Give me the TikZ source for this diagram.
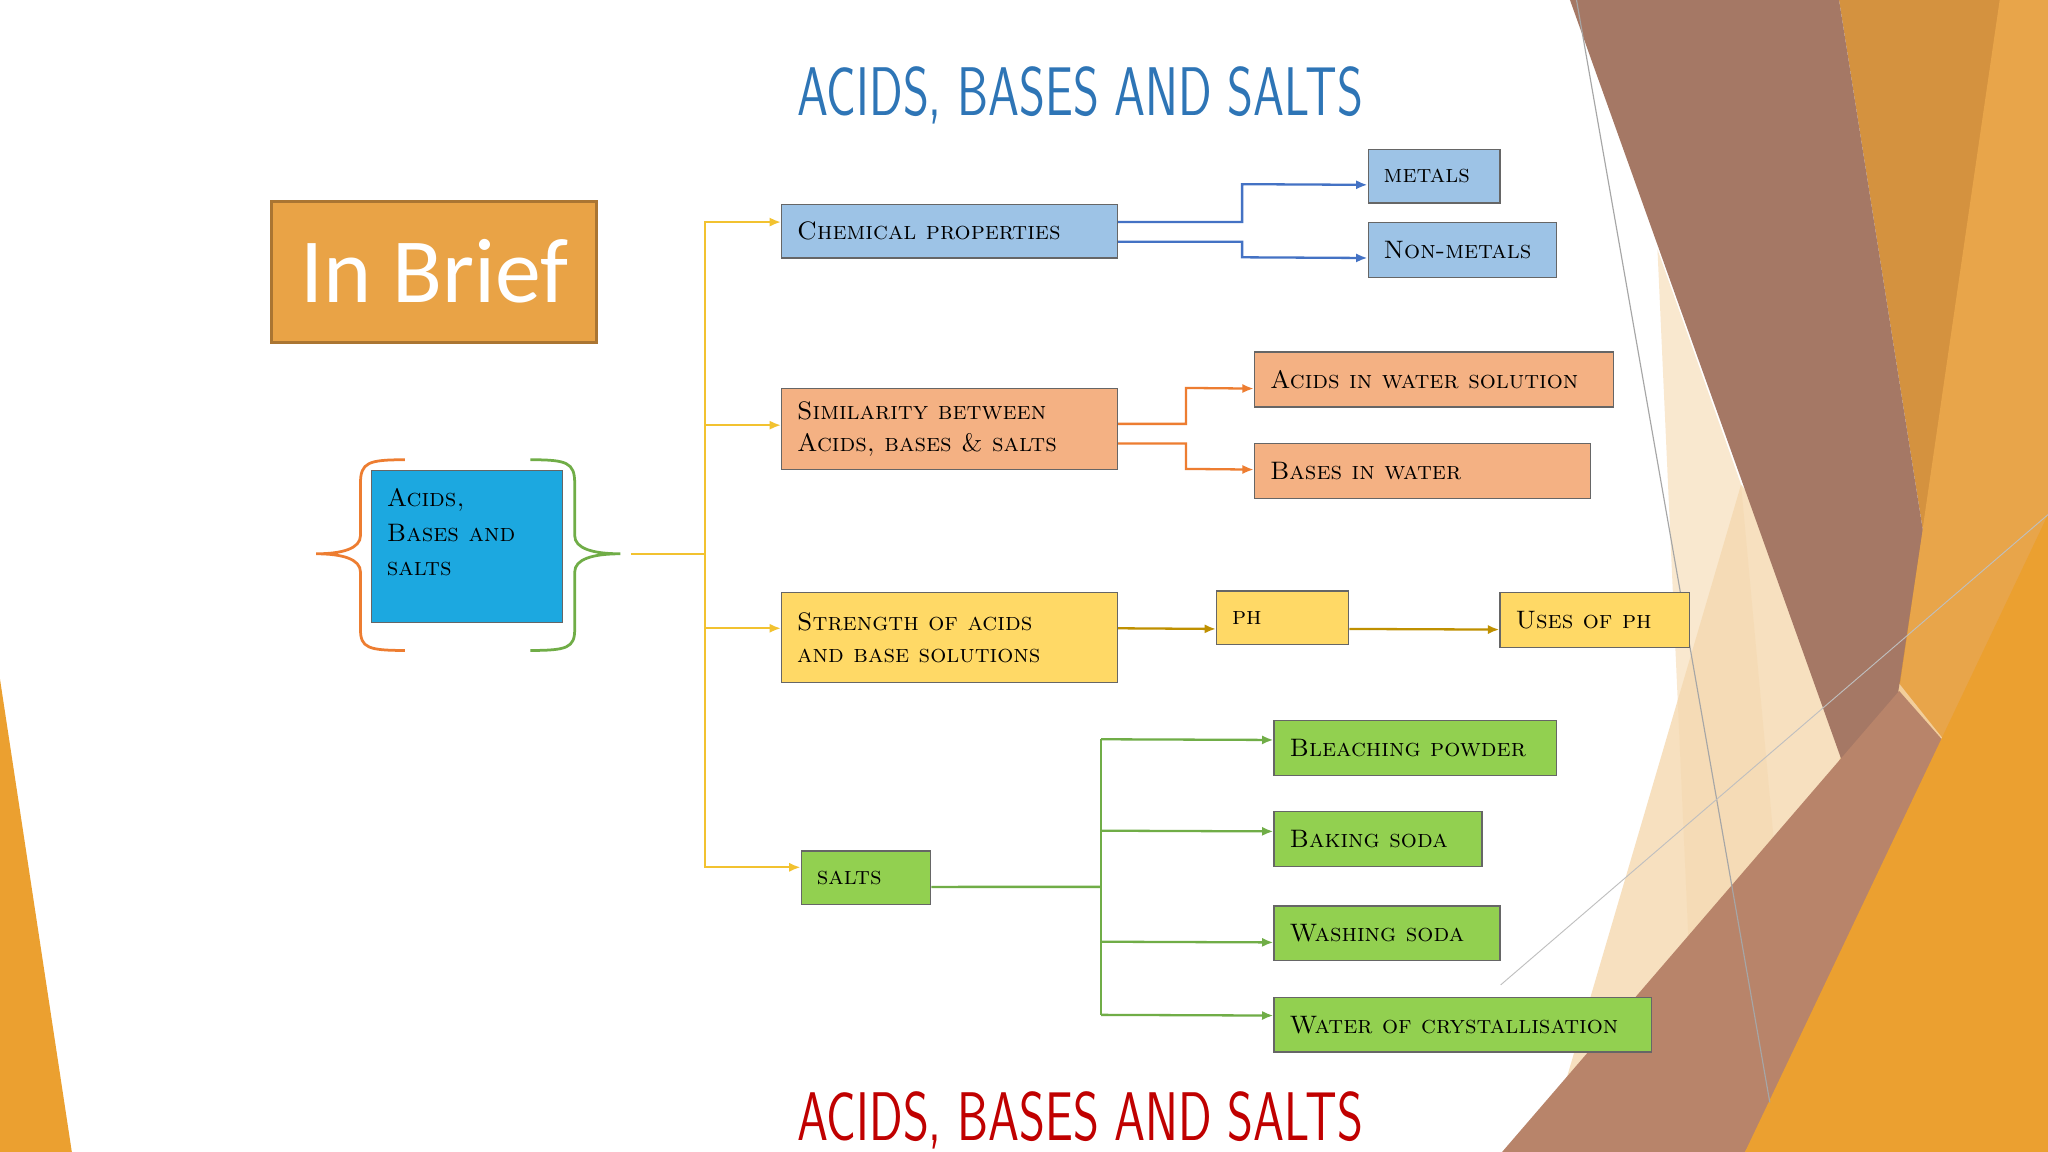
\documentclass[tikz,border=0pt]{standalone}
\usepackage{fontspec}
\newfontfamily\brieffont{Carlito}
\usetikzlibrary{arrows.meta,calc}
\definecolor{tblue}{HTML}{2E75B6}
\definecolor{tred}{HTML}{C00000}
\definecolor{bblue}{HTML}{9DC3E6}
\definecolor{bsalm}{HTML}{F4B183}
\definecolor{byel}{HTML}{FFD966}
\definecolor{bgreen}{HTML}{92D050}
\definecolor{rootc}{HTML}{1CA8E0}
\definecolor{lblue}{HTML}{4472C4}
\definecolor{lsalm}{HTML}{ED7D31}
\definecolor{lyel}{HTML}{BF9000}
\definecolor{lgreen}{HTML}{70AD47}
\definecolor{trunk}{HTML}{F2C230}
\definecolor{brownA}{HTML}{A57865}
\definecolor{orA}{HTML}{D4923F}
\definecolor{orB}{HTML}{E8A54A}
\definecolor{orC}{HTML}{EBA030}
\definecolor{brownB}{HTML}{B8846A}
\definecolor{tan}{HTML}{F5D9B0}
\tikzset{
  bx/.style={draw=black!60, line width=0.6pt, anchor=north west, inner sep=0pt},
  conn/.style={line width=1pt, -{Latex[length=5pt,width=4pt]}},
  plain/.style={line width=1pt},
}
\newcommand{\mybox}[7]{% name, x1,y1,x2,y2, fill, text
  \node[bx, fill=#6, minimum width={(#4-#2)*0.02cm}, minimum height={(#5-#3)*0.02cm}] (#1) at (#2,#3) {};
  \node[font=\fontsize{11}{14}\selectfont\scshape, align=left, anchor=west, inner sep=0pt] at ($(#1.west)+(12,0)$) {#7};}
\begin{document}
\begin{tikzpicture}[x=0.02cm,y=-0.02cm]
\useasboundingbox (0,0) rectangle (1568,882);
\fill[white] (0,0) rectangle (1568,882);
% background decoration
\fill[orA] (1408,0) -- (1568,0) -- (1568,882) -- (1300,882) -- (1472,405) -- cycle;
\fill[orB] (1531,0) -- (1568,0) -- (1568,520) -- (1427,714) -- (1472,405) -- cycle;
\fill[tan, opacity=0.8] (1199,827) -- (1333,371) -- (1499,580) -- cycle;
\fill[tan, opacity=0.6] (1269,191) -- (1333,371) -- (1380,882) -- (1300,882) -- cycle;
\fill[brownA] (1202,0) -- (1408,0) -- (1472,405) -- (1435,652) -- cycle;
\fill[brownB] (1150,882) -- (1336,882) -- (1499,580) -- (1454,529) -- cycle;
\fill[orC] (1336,882) -- (1568,882) -- (1568,394) -- cycle;
\draw[gray!70, line width=0.5pt] (1207,0) -- (1355,844);
\draw[gray!50, line width=0.4pt] (1149,754) -- (1568,394);
\fill[orC] (0,520) -- (55,882) -- (0,882) -- cycle;
% titles
\node[text=tblue, font=\sffamily\fontsize{30}{32}\selectfont] (title) at (827,73) {\scalebox{0.72}[1]{ACIDS, BASES AND SALTS}};
\node[text=tred, font=\sffamily\fontsize{30}{32}\selectfont] (title2) at (827,858) {\scalebox{0.72}[1]{ACIDS, BASES AND SALTS}};
% in brief
\node[draw=orA!80!black, line width=1.2pt, fill=orB!95!orange, minimum width=4.98cm, minimum height=2.16cm, text=white, font=\brieffont\fontsize{40}{44}\selectfont] (brief) at (332.5,208) {In Brief};
% central box
\node[draw=black!60, fill=rootc, minimum width=2.92cm, minimum height=2.32cm, anchor=north west] (root) at (284,360) {};
\node[font=\fontsize{11}{15}\selectfont\scshape, align=left, anchor=north west] at (290,368) {Acids,\\Bases and\\salts};
\draw[lsalm, line width=1.2pt] (310,352) .. controls (282,352) and (276,354) .. (276,370) -- (276,410) .. controls (276,420) and (262,424) .. (242,424) .. controls (262,424) and (276,428) .. (276,438) -- (276,482) .. controls (276,496) and (282,498) .. (310,498);
\draw[lgreen, line width=1.2pt] (406,352) .. controls (434,352) and (440,354) .. (440,370) -- (440,410) .. controls (440,420) and (454,424) .. (475,424) .. controls (454,424) and (440,428) .. (440,438) -- (440,482) .. controls (440,496) and (434,498) .. (406,498);
\coordinate (hub) at (483,424);
\coordinate (tr) at (540,424);
% boxes
\mybox{chem}{598}{156}{855}{197}{bblue}{Chemical properties}
\mybox{met}{1047}{114}{1148}{155}{bblue}{metals}
\mybox{non}{1047}{170}{1191}{212}{bblue}{Non-metals}
\mybox{sim}{598}{297}{855}{359}{bsalm}{Similarity between\\Acids, bases \& salts}
\mybox{aw}{960}{269}{1235}{311}{bsalm}{Acids in water solution}
\mybox{bw}{960}{339}{1217}{381}{bsalm}{Bases in water}
\mybox{str}{598}{453}{855}{522}{byel}{Strength of acids\\and base solutions}
\mybox{ph}{931}{452}{1032}{493}{byel}{ph}
\mybox{uph}{1148}{453}{1293}{495}{byel}{Uses of ph}
\mybox{salt}{613}{651}{712}{692}{bgreen}{salts}
\mybox{bp}{975}{551}{1191}{593}{bgreen}{Bleaching powder}
\mybox{bs}{975}{621}{1134}{663}{bgreen}{Baking soda}
\mybox{ws}{975}{693}{1148}{735}{bgreen}{Washing soda}
\mybox{wc}{975}{763}{1264}{805}{bgreen}{Water of crystallisation}
% trunk
\draw[trunk, plain] (hub) -- (tr);
\draw[trunk, conn] (tr) |- ($(chem.west)+(0,-7)$);
\draw[trunk, conn] (tr) |- ($(sim.west)+(0,-3)$);
\draw[trunk, conn] (tr) |- ($(str.west)+(0,-7)$);
\draw[trunk, conn] (tr) |- ($(salt.west)+(0,-8)$);
% chem
\draw[lblue, conn] ($(chem.east)+(0,-7)$) -| (951,141) -- ($(met.west)+(0,6.5)$);
\draw[lblue, conn] ($(chem.east)+(0,8)$) -| (951,197) -- ($(non.west)+(0,6)$);
\draw[lsalm, conn] ($(sim.east)+(0,-4)$) -| (908,297) -- ($(aw.west)+(0,7)$);
\draw[lsalm, conn] ($(sim.east)+(0,11)$) -| (908,359) -- ($(bw.west)+(0,-1)$);
\draw[lyel, conn] ($(str.east)+(0,-7)$) -- ($(ph.west)+(0,8.5)$);
\draw[lyel, conn] ($(ph.east)+(0,8.5)$) -- ($(uph.west)+(0,7.5)$);
\coordinate (sj) at (843,679);
\draw[lgreen, plain] ($(salt.east)+(0,7)$) -- (sj);
\draw[lgreen, plain] (843,566) -- (843,777);
\draw[lgreen, conn] (843,566) -- ($(bp.west)+(0,-6)$);
\draw[lgreen, conn] (843,636) -- ($(bs.west)+(0,-6)$);
\draw[lgreen, conn] (843,721) -- ($(ws.west)+(0,7)$);
\draw[lgreen, conn] (843,777) -- ($(wc.west)+(0,-7)$);
\end{tikzpicture}
\end{document}
